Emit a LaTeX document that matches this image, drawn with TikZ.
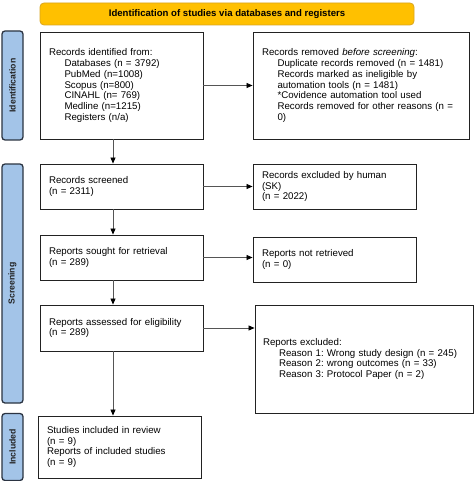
\documentclass[tikz,border=0pt]{standalone}
\usepackage{fontspec}
\setmainfont{Liberation Sans}
\usetikzlibrary{arrows.meta}
\frenchspacing
\definecolor{boxline}{HTML}{222222}
\definecolor{arrowgray}{HTML}{555555}
\definecolor{sidefill}{HTML}{A3C4E8}
\definecolor{sideline}{HTML}{2B3442}
\definecolor{headfill}{HTML}{FFC000}
\definecolor{headline}{HTML}{D9A520}
\definecolor{sidetext}{HTML}{222222}
\tikzset{
  flowbox/.style={draw=boxline, line width=0.9pt, rectangle, align=left,
    inner xsep=9pt, inner ysep=0pt, anchor=center,
    font=\fontsize{9.7}{10.8}\selectfont},
  sidebox/.style={draw=sideline, fill=sidefill, line width=1.3pt, rounded corners=3pt,
    minimum width=21pt, inner sep=0pt, anchor=center},
  sidelabel/.style={rotate=90, font=\fontsize{8.7}{10}\selectfont\bfseries, text=sidetext},
  headbox/.style={draw=headline, fill=headfill, line width=0.8pt, rounded corners=4pt,
    minimum width=374pt, minimum height=22pt, inner sep=0pt,
    font=\fontsize{9.6}{10}\selectfont\bfseries},
  flowarrow/.style={draw=arrowgray, line width=0.8pt,
    -{Triangle[length=6pt,width=5pt,color=black,fill=black]}},
}
\newcommand{\ind}{\hspace*{15.5pt}}
\begin{document}
\begin{tikzpicture}[x=1pt,y=-1pt]
\useasboundingbox (0,0) rectangle (474,481);
\fill[white] (0,0) rectangle (474,481);

% heading
\node[headbox] (head) at (227,14) {Identification of studies via databases and registers};

% side labels
\node[sidebox, minimum height=109pt] (sid) at (12.5,85.5) {};
\node[sidelabel] (sidt) at (sid.center) {Identification};
\node[sidebox, minimum height=239pt] (ssc) at (12.5,283.5) {};
\node[sidelabel] (ssct) at (ssc.center) {Screening};
\node[sidebox, minimum height=67pt] (sin) at (12.5,447) {};
\node[sidelabel] (sint) at (sin.center) {Included};

% left column
\node[flowbox, text width=145pt, minimum height=107pt] (b1) at (121.5,85.5) {Records identified from:\\
\ind Databases (n = 3792)\\
\ind PubMed (n=1008)\\
\ind Scopus (n=800)\\
\ind CINAHL (n= 769)\\
\ind Medline (n=1215)\\
\ind Registers (n/a)};

\node[flowbox, text width=145pt, minimum height=45pt] (b2) at (121.5,186.5) {Records screened\\(n = 2311)};
\node[flowbox, text width=145pt, minimum height=45pt] (b3) at (121.5,257.5) {Reports sought for retrieval\\(n = 289)};
\node[flowbox, text width=145pt, minimum height=46pt] (b4) at (121.5,328) {Reports assessed for eligibility\\(n = 289)};
\node[flowbox, text width=145pt, minimum height=62pt] (b5) at (119.5,447) {Studies included in review\\(n = 9)\\Reports of included studies\\(n = 9)};

% right column
\node[flowbox, text width=198pt, minimum height=107pt] (r1) at (361,85.5) {Records removed \textit{before screening}:\\
\ind Duplicate records removed (n = 1481)\\
\ind Records marked as ineligible by\\
\ind automation tools (n = 1481)\\
\ind *Covidence automation tool used\\
\ind Records removed for other reasons (n =\\
\ind 0)};
\node[flowbox, text width=145pt, minimum height=45pt] (r2) at (334.5,186.5) {Records excluded by human\\(SK)\\(n = 2022)};
\node[flowbox, text width=145pt, minimum height=45pt] (r3) at (334.5,259.5) {Reports not retrieved\\(n = 0)};
\node[flowbox, text width=202pt, inner xsep=8pt, minimum height=108pt] (r4) at (364,359) {Reports excluded:\\
\hspace*{16pt}Reason 1: Wrong study design (n = 245)\\
\hspace*{16pt}Reason 2: wrong outcomes (n = 33)\\
\hspace*{16pt}Reason 3: Protocol Paper (n = 2)};

% connectors
\coordinate (ax) at (113,0);
\draw[flowarrow] (b1.south -| ax) -- (b2.north -| ax);
\draw[flowarrow] (b2.south -| ax) -- (b3.north -| ax);
\draw[flowarrow] (b3.south -| ax) -- (b4.north -| ax);
\draw[flowarrow] (b4.south -| ax) -- (b5.north -| ax);

\draw[flowarrow] (b1.east) -- (r1.west |- b1.east);
\draw[flowarrow] (b2.east) -- (r2.west |- b2.east);
\draw[flowarrow] (b3.east) -- (r3.west |- b3.east);
\draw[flowarrow] (b4.east) -- (r4.west |- b4.east);
\end{tikzpicture}
\end{document}
